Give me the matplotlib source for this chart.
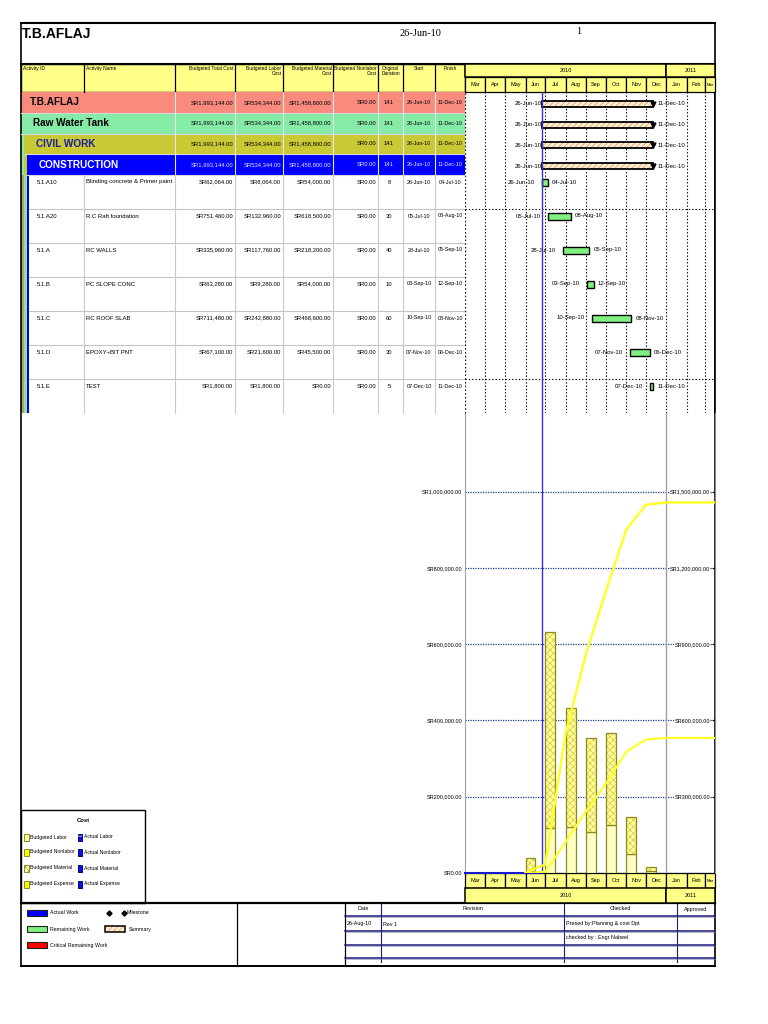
import matplotlib
matplotlib.use('Agg')
import matplotlib.pyplot as plt
import matplotlib.dates as mdates
import matplotlib.transforms as mtransforms
from matplotlib.patches import Rectangle
from datetime import datetime
import numpy as np

plt.rcParams['font.family'] = ['Liberation Sans', 'DejaVu Sans']
plt.rcParams['hatch.linewidth'] = 0.5

# ---------------- data ----------------
project_title = 'T.B.AFLAJ'
report_date = '26-Jun-10'
page_number = '1'

table_headers = ['Activity ID', 'Activity Name', 'Budgeted Total Cost', 'Budgeted Labor\nCost',
                 'Budgeted Material\nCost', 'Budgeted Nonlabor\nCost', 'Original\nDuration',
                 'Start', 'Finish']

wbs_names = ['T.B.AFLAJ', 'Raw Water Tank', 'CIVIL WORK', 'CONSTRUCTION']
wbs_total = [1993144.00, 1993144.00, 1993144.00, 1993144.00]
wbs_labor = [534344.00, 534344.00, 534344.00, 534344.00]
wbs_material = [1458800.00, 1458800.00, 1458800.00, 1458800.00]
wbs_nonlabor = [0.00, 0.00, 0.00, 0.00]
wbs_duration = [141, 141, 141, 141]
wbs_start = ['26-Jun-10', '26-Jun-10', '26-Jun-10', '26-Jun-10']
wbs_finish = ['11-Dec-10', '11-Dec-10', '11-Dec-10', '11-Dec-10']

act_ids = ['5.1.A10', '5.1.A20', '5.1.A', '5.1.B', '5.1.C', '5.1.D', '5.1.E']
act_names = ['Blinding concrete & Primer paint', 'R.C Raft foundation', 'RC WALLS',
             'PC SLOPE CONC', 'RC ROOF SLAB', 'EPOXY+BIT PNT', 'TEST']
act_total = [62064.00, 751460.00, 335960.00, 63280.00, 711480.00, 67100.00, 1800.00]
act_labor = [8064.00, 132960.00, 117760.00, 9280.00, 242880.00, 21600.00, 1800.00]
act_material = [54000.00, 618500.00, 218200.00, 54000.00, 468600.00, 45500.00, 0.00]
act_nonlabor = [0.00, 0.00, 0.00, 0.00, 0.00, 0.00, 0.00]
act_duration = [8, 30, 40, 10, 60, 30, 5]
act_start = ['26-Jun-10', '05-Jul-10', '28-Jul-10', '03-Sep-10', '10-Sep-10', '07-Nov-10', '07-Dec-10']
act_finish = ['04-Jul-10', '08-Aug-10', '05-Sep-10', '12-Sep-10', '08-Nov-10', '06-Dec-10', '11-Dec-10']

# monthly budgeted cost (histogram) – period boundaries, labor and material per month
hist_bounds = ['01-Jun-10', '01-Jul-10', '01-Aug-10', '01-Sep-10', '01-Oct-10',
               '01-Nov-10', '01-Dec-10', '01-Jan-11']
hist_labor = [5000, 117000, 121000, 108000, 125000, 49000, 6000]
hist_material = [34000, 516000, 312000, 245000, 242000, 99000, 9000]

left_ticks = [0, 200000, 400000, 600000, 800000, 1000000]
right_ticks = [300000, 600000, 900000, 1200000, 1500000]

timescale_start = '01-Mar-10'
timescale_end = '16-Mar-11'

cost_legend_left = ['Budgeted Labor', 'Budgeted Nonlabor', 'Budgeted Material', 'Budgeted Expense']
cost_legend_right = ['Actual Labor', 'Actual Nonlabor', 'Actual Material', 'Actual Expense']
bar_legend = ['Actual Work', 'Remaining Work', 'Critical Remaining Work']

rev_headers = ['Date', 'Revision', 'Checked', 'Approved']
rev_rows = [['26-Aug-10', 'Rev 1', 'Presed by:Planning & cost Dpt', ''],
            ['', '', 'checked by : Engr Nabeel', '']]

# ---------------- helpers ----------------
def d(s):
    return mdates.date2num(datetime.strptime(s, '%d-%b-%y'))

def money(v):
    return 'SR{:,.2f}'.format(v)

W, H = 768, 1024
fig = plt.figure(figsize=(7.68, 10.24), dpi=100)
pax = fig.add_axes([0, 0, 1, 1])
pax.set_xlim(0, W)
pax.set_ylim(H, 0)
pax.axis('off')

def fig_rect(x0, y0, x1, y1):
    return [x0 / W, 1 - y1 / H, (x1 - x0) / W, (y1 - y0) / H]

def prect(x0, y0, x1, y1, **kw):
    pax.add_patch(Rectangle((x0, y0), x1 - x0, y1 - y0, **kw))

def pline(xs, ys, **kw):
    pax.plot(xs, ys, **kw)

def ptext(x, y, s, **kw):
    kw.setdefault('fontsize', 4.3)
    kw.setdefault('va', 'center')
    pax.text(x, y, s, **kw)

# layout (pixels)
L, R = 21, 715
TOP, HDR_T, HDR_B = 23, 64, 92
col_x = [21, 84, 175, 235, 283, 333, 378, 403, 435, 465]
GX0, GX1 = 465, 715
wbs_h, act_h = 20.75, 34.0
wbs_tops = [HDR_B + i * wbs_h for i in range(4)]
act_tops = [HDR_B + 4 * wbs_h + j * act_h for j in range(7)]
TABLE_B = act_tops[-1] + act_h - 1
HIST_B = 873
BOT_T, BOT_B = 903, 966

YEL = '#FFFF88'
GRN = '#80F080'
FS_NUM = 4.2
FS_DATE = 3.9

# ---------------- frame and title ----------------
pline([L, R], [TOP, TOP], color='black', lw=1.5)
pline([L, L], [TOP, BOT_B], color='black', lw=1.2)
pline([R, R], [TOP, BOT_B], color='black', lw=1.2)
pline([L, R], [HDR_T, HDR_T], color='black', lw=1.5)
ptext(22, 34, project_title, fontsize=10, fontweight='bold')
ptext(421, 33, report_date, fontsize=7.5, family='Liberation Serif', ha='center')
ptext(579, 32, page_number, fontsize=7.5, family='Liberation Serif', ha='center')

# ---------------- table header ----------------
prect(L, HDR_T, GX0, HDR_B, facecolor=YEL, edgecolor='black', lw=1)
for cx in col_x[1:-1]:
    pline([cx, cx], [HDR_T, HDR_B], color='black', lw=0.9)
hdr_align = ['left', 'left', 'right', 'right', 'right', 'right', 'center', 'center', 'center']
for k, txt in enumerate(table_headers):
    a = hdr_align[k]
    if a == 'left':
        x = col_x[k] + 2
    elif a == 'right':
        x = col_x[k + 1] - 1.5
    else:
        x = (col_x[k] + col_x[k + 1]) / 2
    ptext(x, 66, txt, fontsize=3.5, ha=a, va='top', ma=a, linespacing=1.1)

# ---------------- WBS rows ----------------
wbs_colors = ['#F98A7E', '#85EBA6', '#C9C935', '#0000FF']
wbs_txt_colors = ['black', 'black', '#1C1C9C', 'white']
wbs_val_colors = ['black', 'black', 'black', '#E4E4FF']
wbs_indent = [30, 33, 36, 39]
strip_cols = ['#85EBA6', '#C9C935', '#0000FF']
for i in range(4):
    y0 = wbs_tops[i]
    y1 = y0 + wbs_h
    x_start = L + 3 * max(0, i - 1)
    prect(L, y0, GX0, y1, facecolor='white', edgecolor='none')
    for s in range(max(0, i - 1)):
        prect(L + 3 * s, y0, L + 3 * (s + 1), y1, facecolor=strip_cols[s], edgecolor='none')
    prect(x_start, y0, GX0, y1, facecolor=wbs_colors[i], edgecolor='none')
    pline([x_start, GX0], [y1, y1], color='#D8D8D8', lw=0.8)
    for cx in col_x[2:-1]:
        pline([cx, cx], [y0, y1], color='#E6E6E6', lw=0.8)
    yc = (y0 + y1) / 2
    ptext(wbs_indent[i], yc, wbs_names[i], fontsize=7.2, fontweight='bold', color=wbs_txt_colors[i])
    vc = wbs_val_colors[i]
    ptext(col_x[3] - 2, yc, money(wbs_total[i]), ha='right', color=vc, fontsize=FS_NUM)
    ptext(col_x[4] - 2, yc, money(wbs_labor[i]), ha='right', color=vc, fontsize=FS_NUM)
    ptext(col_x[5] - 2, yc, money(wbs_material[i]), ha='right', color=vc, fontsize=FS_NUM)
    ptext(col_x[6] - 2, yc, money(wbs_nonlabor[i]), ha='right', color=vc, fontsize=FS_NUM)
    ptext(389, yc, str(wbs_duration[i]), ha='center', color=vc, fontsize=FS_NUM)
    ptext(419, yc, wbs_start[i], ha='center', color=vc, fontsize=FS_DATE)
    ptext(450, yc, wbs_finish[i], ha='center', color=vc, fontsize=FS_DATE)

# ---------------- activity rows ----------------
for j in range(7):
    y0 = act_tops[j]
    y1 = y0 + act_h
    prect(L, y0, L + 3, y1, facecolor='#A6A66A', edgecolor='none')
    prect(L + 3, y0, L + 5.5, y1, facecolor='#9EDC9E', edgecolor='none')
    prect(L + 5.5, y0, L + 7.5, y1, facecolor='#0000FF', edgecolor='none')
    if j < 6:
        pline([L + 7.5, GX0], [y1, y1], color='#C4C4C4', lw=0.8)
    for cx in col_x[1:-1]:
        pline([cx, cx], [y0, y1], color='#C8C8C8', lw=0.8)
    yt = y0 + 7
    ptext(37, yt, act_ids[j])
    ptext(col_x[1] + 2, yt, act_names[j])
    ptext(col_x[3] - 2, yt, money(act_total[j]), ha='right', fontsize=FS_NUM)
    ptext(col_x[4] - 2, yt, money(act_labor[j]), ha='right', fontsize=FS_NUM)
    ptext(col_x[5] - 2, yt, money(act_material[j]), ha='right', fontsize=FS_NUM)
    ptext(col_x[6] - 2, yt, money(act_nonlabor[j]), ha='right', fontsize=FS_NUM)
    ptext(389, yt, str(act_duration[j]), ha='center', fontsize=FS_NUM)
    ptext(419, yt, act_start[j], ha='center', fontsize=FS_DATE)
    ptext(450, yt, act_finish[j], ha='center', fontsize=FS_DATE)

# ---------------- Gantt ----------------
x_min, x_max = d(timescale_start), d(timescale_end)
data_date = d(report_date)
gax = fig.add_axes(fig_rect(GX0, HDR_B, GX1, TABLE_B + 1))
gax.set_xlim(x_min, x_max)
gax.set_ylim(TABLE_B + 1, HDR_B)
gax.axis('off')

month_starts = []
dt = datetime(2010, 3, 1)
while mdates.date2num(dt) < x_max:
    month_starts.append(dt)
    dt = datetime(dt.year + (dt.month // 12), dt.month % 12 + 1, 1)

for ms in month_starts[1:]:
    gax.axvline(mdates.date2num(ms), color='black', ls=(0, (1.2, 1.8)), lw=0.8)
gax.axvline(x_min, color='black', ls=(0, (1.2, 1.8)), lw=0.9)
for yy in [act_tops[1], act_tops[6]]:
    gax.axhline(yy, color='black', ls=(0, (1.2, 1.8)), lw=0.8)
gax.axvline(x_max, color='black', lw=1.2)
gax.axvline(data_date, color='#3434C0', lw=1.0, zorder=5)

lab_left = mtransforms.offset_copy(gax.transData, fig=fig, x=-7, y=0, units='dots')
lab_left0 = mtransforms.offset_copy(gax.transData, fig=fig, x=0, y=0, units='dots')
lab_right = mtransforms.offset_copy(gax.transData, fig=fig, x=4, y=0, units='dots')
FS_G = 4.3

for i in range(4):
    yc = wbs_tops[i] + wbs_h / 2 + 1.5
    st, fn = d(wbs_start[i]), d(wbs_finish[i]) + 1
    gax.barh(yc, fn - st, left=st, height=6, color='#FFF0DC', edgecolor='#F0903A',
             hatch='//////', lw=0, zorder=3)
    gax.barh(yc, fn - st, left=st, height=6, fill=False, edgecolor='black', lw=1.3, zorder=4)
    gax.plot([fn], [yc], marker='v', color='black', ms=3.5, zorder=4)
    gax.text(st, yc, wbs_start[i], transform=lab_left0, ha='right', va='center', fontsize=FS_G)
    gax.text(fn, yc, wbs_finish[i], transform=lab_right, ha='left', va='center', fontsize=FS_G)

for j in range(7):
    yc = act_tops[j] + 7
    st, fn = d(act_start[j]), d(act_finish[j]) + 1
    gax.barh(yc, fn - st, left=st, height=7, color=GRN, edgecolor='black', lw=1.0, zorder=4)
    gax.text(st, yc, act_start[j], transform=lab_left, ha='right', va='center', fontsize=FS_G)
    gax.text(fn, yc, act_finish[j], transform=lab_right, ha='left', va='center', fontsize=FS_G)

# time-scale header bands (x in dates, y in page pixels)
tband = mtransforms.blended_transform_factory(gax.transData, pax.transData)

def time_band(yr_top, yr_bot, mo_top, mo_bot):
    for ms in month_starts:
        a = mdates.date2num(ms)
        nxt = datetime(ms.year + (ms.month // 12), ms.month % 12 + 1, 1)
        b = min(mdates.date2num(nxt), x_max)
        gax.add_patch(Rectangle((a, mo_top), b - a, mo_bot - mo_top, transform=tband,
                                facecolor=YEL, edgecolor='black', lw=0.9, clip_on=False))
        fs = 4.0 if b - a > 20 else 3.0
        gax.text((a + b) / 2, (mo_top + mo_bot) / 2, ms.strftime('%b'), transform=tband,
                 ha='center', va='center', fontsize=fs, clip_on=False)
    years = [(x_min, d('01-Jan-11'), '2010'), (d('01-Jan-11'), x_max, '2011')]
    for a, b, lab in years:
        gax.add_patch(Rectangle((a, yr_top), b - a, yr_bot - yr_top, transform=tband,
                                facecolor=YEL, edgecolor='black', lw=1.1, clip_on=False))
        gax.text((a + b) / 2, (yr_top + yr_bot) / 2, lab, transform=tband,
                 ha='center', va='center', fontsize=4.0, clip_on=False)

time_band(HDR_T, 77, 77, HDR_B)
time_band(888, BOT_T, HIST_B, 888)

# ---------------- cost histogram ----------------
px_per_200k = 76.3
left_top = 200000 * (HIST_B - (TABLE_B + 1)) / px_per_200k
hax = fig.add_axes(fig_rect(GX0, TABLE_B + 1, GX1, HIST_B))
hax.set_xlim(x_min, x_max)
hax.set_ylim(0, left_top)
hax.patch.set_alpha(0)
hax2 = hax.twinx()
hax2.set_ylim(0, left_top * 1.5)
for a_ in (hax, hax2):
    for sp in a_.spines.values():
        sp.set_visible(False)
    a_.set_xticks([])
hax.spines['left'].set_visible(True)
hax.spines['left'].set_color('#A0A0A0')
hax2.spines['right'].set_visible(True)
hax2.spines['right'].set_color('#8C8C8C')

hax.set_yticks(left_ticks, labels=[money(v) for v in left_ticks])
hax.tick_params(axis='y', length=0, pad=2, labelsize=4.0)
hax.grid(axis='y', color='#1F3A93', ls=(0, (1, 1)), lw=0.9)
hax2.set_yticks(right_ticks, labels=[money(v) for v in right_ticks], ha='right',
               bbox=dict(facecolor='white', edgecolor='none', pad=0.4))
hax2.tick_params(axis='y', direction='in', length=2, pad=-3.5, labelsize=4.0)

hax.axvline(d('01-Jan-11'), color='#A0A0A0', lw=1.0)
hax.axvline(data_date, color='#3434C0', lw=1.0, zorder=5)

bx = [d(s) for s in hist_bounds]
hax.bar(bx[:-1], hist_labor, width=15, align='edge', color='#FFFFC4',
        edgecolor='#8C8C1E', lw=0.9, zorder=3)
hax.bar(bx[:-1], hist_material, bottom=hist_labor, width=15, align='edge', color='#FFFF9C',
        edgecolor='#D8C840', hatch='xxxxx', lw=0, zorder=3)
hax.bar(bx[:-1], hist_material, bottom=hist_labor, width=15, align='edge', fill=False,
        edgecolor='#8C8C1E', lw=0.9, zorder=4)

cum_x = bx + [x_max]
cum_mat = np.concatenate([[0], np.cumsum(hist_material)])
cum_lab = np.concatenate([[0], np.cumsum(hist_labor)])
hax2.plot(cum_x, list(cum_mat) + [cum_mat[-1]], color='#FFFF22', lw=1.7, zorder=6)
hax2.plot(cum_x, list(cum_lab) + [cum_lab[-1]], color='#FFFF22', lw=1.5, zorder=6)
hax.plot([x_min, data_date], [0, 0], color='#1818D0', lw=1.5, clip_on=False, zorder=7)

# ---------------- cost legend ----------------
prect(L, 810, 145, BOT_T, facecolor='white', edgecolor='black', lw=1)
ptext(83, 821, 'Cost', fontsize=4.2, fontweight='bold', ha='center')
leg_y = [837, 852, 868, 884]
lf = ['#FFFF99', '#FFFF00', '#FFFFB8', '#FFFF00']
for k in range(4):
    prect(24, leg_y[k] - 3.5, 28.5, leg_y[k] + 3.5, facecolor=lf[k], edgecolor='#8C8C1E',
          lw=0.7, hatch='xxxx' if k == 2 else None)
    ptext(30, leg_y[k], cost_legend_left[k], fontsize=3.7)
    prect(77.5, leg_y[k] - 3.5, 82, leg_y[k] + 3.5, facecolor='#1010E0', edgecolor='#000080',
          lw=0.7)
    ptext(84, leg_y[k], cost_legend_right[k], fontsize=3.7)
pax.add_patch(Rectangle((77.5, leg_y[0] - 3.5), 4.5, 7, facecolor='none', edgecolor='white',
                        hatch='---', lw=0))
pax.add_patch(Rectangle((77.5, leg_y[2] - 3.5), 4.5, 7, facecolor='none', edgecolor='white',
                        hatch='\\\\', lw=0))

# ---------------- bottom section ----------------
pline([L, R], [BOT_T, BOT_T], color='black', lw=1.6)
pline([L, R], [BOT_B, BOT_B], color='black', lw=1.4)
pline([237, 237], [BOT_T, BOT_B], color='black', lw=0.9)
pline([345, 345], [BOT_T, BOT_B], color='black', lw=0.9)

bl_y = [913, 929, 945]
bl_c = ['#0000FF', GRN, '#FF0000']
for k in range(3):
    prect(27, bl_y[k] - 3, 47, bl_y[k] + 3, facecolor=bl_c[k], edgecolor='#202020', lw=0.8)
    ptext(50, bl_y[k], bar_legend[k], fontsize=3.8)
pax.plot([109, 124], [913, 913], ls='none', marker='D', ms=2.6, color='black')
ptext(127, 913, 'Milestone', fontsize=3.8)
prect(105, 926, 125, 932, facecolor='#FFF0DC', edgecolor='#F0903A', hatch='//////', lw=0)
prect(105, 926, 125, 932, facecolor='none', edgecolor='black', lw=1.1)
ptext(129, 929, 'Summary', fontsize=3.8)

rev_x = [345, 381, 564, 677, R]
for cx in rev_x[1:-1]:
    pline([cx, cx], [BOT_T, 962], color='#1A1A7A', lw=0.8)
for yy in [916, 931, 945, 958]:
    pline([345, R], [yy, yy], color='#1A1A7A', lw=1.1)
    pline([345, R], [yy + 1.3, yy + 1.3], color='#7A7AB0', lw=0.4)
for k, h in enumerate(rev_headers):
    ptext((rev_x[k] + rev_x[k + 1]) / 2, 909, h, fontsize=3.9, ha='center')
row_y = [924, 938]
for r, row in enumerate(rev_rows):
    for k, val in enumerate(row):
        if val:
            ptext(rev_x[k] + 2, row_y[r], val, fontsize=3.9)

fig.savefig('out.png', dpi=100)
